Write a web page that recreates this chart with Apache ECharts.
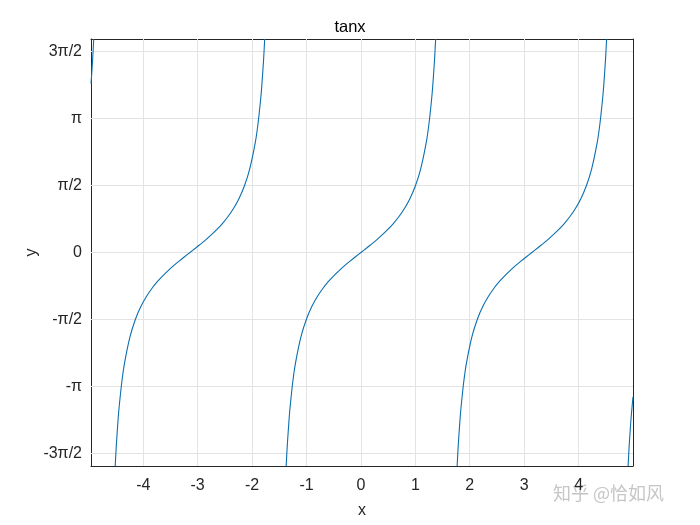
<!DOCTYPE html>
<html>
<head>
<meta charset="utf-8">
<script src="https://cdn.jsdelivr.net/npm/echarts@6/dist/echarts.min.js"></script>
<style>html,body{margin:0;padding:0;background:#fff}#c{width:700px;height:525px}</style>
</head>
<body>
<div id="c"></div>
<script>
// ---- data ----
var titleText = 'tanx';
var xName = 'x';
var yName = 'y';
var xTickValues = [-4, -3, -2, -1, 0, 1, 2, 3, 4];
var yTickValues = [-4.7124, -3.1416, -1.5708, 0, 1.5708, 3.1416, 4.7124];
var yTickLabels = ['-3\u03c0/2', '-\u03c0', '-\u03c0/2', '0', '\u03c0/2', '\u03c0', '3\u03c0/2'];
var xRange = [-4.96, 5.0];
var yRange = [-5, 5];

var branchA = [[-4.96, 3.956], [-4.95, 4.129], [-4.93, 4.523], [-4.9098, 5.0]];
var branchB = [[-4.5150, -5.0], [-4.5016, -4.673], [-4.4916, -4.455], [-4.4616, -3.903], [-4.4416, -3.602],
  [-4.3916, -3.010], [-4.3416, -2.572], [-4.2416, -1.965], [-4.1416, -1.557], [-4.0416, -1.260],
  [-3.9416, -1.030], [-3.8416, -0.842], [-3.7416, -0.684], [-3.6416, -0.546], [-3.5416, -0.423],
  [-3.4416, -0.309], [-3.3416, -0.203], [-3.2416, -0.100], [-3.1416, 0], [-3.0416, 0.100],
  [-2.9416, 0.203], [-2.8416, 0.309], [-2.7416, 0.423], [-2.6416, 0.546], [-2.5416, 0.684],
  [-2.4416, 0.842], [-2.3416, 1.030], [-2.2416, 1.260], [-2.1416, 1.557], [-2.0416, 1.965],
  [-1.9416, 2.572], [-1.8916, 3.010], [-1.8416, 3.602], [-1.8216, 3.903], [-1.7916, 4.455],
  [-1.7816, 4.673], [-1.7682, 5.0]];
var branchC = [[-1.3734, -5.0], [-1.36, -4.673], [-1.35, -4.455], [-1.32, -3.903], [-1.30, -3.602],
  [-1.25, -3.010], [-1.20, -2.572], [-1.10, -1.965], [-1.00, -1.557], [-0.90, -1.260],
  [-0.80, -1.030], [-0.70, -0.842], [-0.60, -0.684], [-0.50, -0.546], [-0.40, -0.423],
  [-0.30, -0.309], [-0.20, -0.203], [-0.10, -0.100], [0, 0], [0.10, 0.100],
  [0.20, 0.203], [0.30, 0.309], [0.40, 0.423], [0.50, 0.546], [0.60, 0.684],
  [0.70, 0.842], [0.80, 1.030], [0.90, 1.260], [1.00, 1.557], [1.10, 1.965],
  [1.20, 2.572], [1.25, 3.010], [1.30, 3.602], [1.32, 3.903], [1.35, 4.455],
  [1.36, 4.673], [1.3734, 5.0]];
var branchD = [[1.7682, -5.0], [1.7816, -4.673], [1.7916, -4.455], [1.8216, -3.903], [1.8416, -3.602],
  [1.8916, -3.010], [1.9416, -2.572], [2.0416, -1.965], [2.1416, -1.557], [2.2416, -1.260],
  [2.3416, -1.030], [2.4416, -0.842], [2.5416, -0.684], [2.6416, -0.546], [2.7416, -0.423],
  [2.8416, -0.309], [2.9416, -0.203], [3.0416, -0.100], [3.1416, 0], [3.2416, 0.100],
  [3.3416, 0.203], [3.4416, 0.309], [3.5416, 0.423], [3.6416, 0.546], [3.7416, 0.684],
  [3.8416, 0.842], [3.9416, 1.030], [4.0416, 1.260], [4.1416, 1.557], [4.2416, 1.965],
  [4.3416, 2.572], [4.3916, 3.010], [4.4416, 3.602], [4.4616, 3.903], [4.4916, 4.455],
  [4.5016, 4.673], [4.5150, 5.0]];
var branchE = [[4.9098, -5.0], [4.93, -4.523], [4.95, -4.129], [4.97, -3.796], [5, -3.3805]];
var watermark = '\u77e5\u4e4e @\u6070\u5982\u98ce';

// ---- chart ----
var FONT = '"Liberation Sans", Arial, Helvetica, sans-serif';
var TXT = '#262626';
var GRID = '#e3e3e3';
var CURVE = '#0a6fb0';

var chart = echarts.init(document.getElementById('c'), null, {renderer: 'canvas'});

function yLabel(v) {
  var best = 0, bd = 1e9;
  for (var i = 0; i < yTickValues.length; i++) {
    var d = Math.abs(yTickValues[i] - v);
    if (d < bd) { bd = d; best = i; }
  }
  return yTickLabels[best];
}

var branches = [branchA, branchB, branchC, branchD, branchE];
var series = branches.map(function (b, i) {
  var s = {
    type: 'line', data: b, showSymbol: false, symbol: 'none',
    smooth: 0.3, clip: true,
    lineStyle: {color: CURVE, width: 1.1}, z: 5, silent: true, animation: false
  };
  if (i === 0) {
    s.markLine = {
      silent: true, symbol: 'none', animation: false,
      label: {show: false},
      lineStyle: {color: GRID, width: 1, type: 'solid'},
      data: yTickValues.map(function (v) { return {yAxis: v}; })
        .concat(xTickValues.map(function (v) { return {xAxis: v}; })),
      z: 1
    };
  }
  return s;
});

var axisLineStyle = {color: TXT, width: 1};

chart.setOption({
  animation: false,
  backgroundColor: '#fff',
  title: {
    text: titleText, left: 'center', top: 14,
    textStyle: {fontFamily: FONT, fontSize: 16.5, fontWeight: 'normal', color: '#000'}
  },
  grid: {left: 91, right: 67, top: 39, bottom: 59, containLabel: false},
  xAxis: [{
    type: 'value', min: xRange[0], max: xRange[1], position: 'bottom',
    name: xName, nameLocation: 'middle', nameGap: 37, nameMoveOverlap: false,
    nameTextStyle: {fontFamily: FONT, fontSize: 16, color: TXT},
    axisLine: {show: true, onZero: false, lineStyle: axisLineStyle},
    axisTick: {show: true, inside: true, length: 5, lineStyle: axisLineStyle, customValues: xTickValues},
    axisLabel: {
      fontFamily: FONT, fontSize: 16, color: TXT, margin: 12, customValues: xTickValues,
      formatter: function (v) { return String(Math.round(v)); }
    },
    splitLine: {show: false}
  }, {
    type: 'value', min: xRange[0], max: xRange[1], position: 'top',
    axisLine: {show: true, onZero: false, lineStyle: axisLineStyle},
    axisTick: {show: true, inside: true, length: 5, lineStyle: axisLineStyle, customValues: xTickValues},
    axisLabel: {show: false},
    splitLine: {show: false}
  }],
  yAxis: [{
    type: 'value', min: yRange[0], max: yRange[1], position: 'left',
    name: yName, nameLocation: 'middle', nameGap: 51, nameRotate: 90, nameMoveOverlap: false,
    nameTextStyle: {fontFamily: FONT, fontSize: 16, color: TXT},
    axisLine: {show: true, onZero: false, lineStyle: axisLineStyle},
    axisTick: {show: true, inside: true, length: 5, lineStyle: axisLineStyle, customValues: yTickValues},
    axisLabel: {fontFamily: FONT, fontSize: 16, color: TXT, margin: 9, customValues: yTickValues, formatter: yLabel},
    splitLine: {show: false}
  }, {
    type: 'value', min: yRange[0], max: yRange[1], position: 'right',
    axisLine: {show: true, onZero: false, lineStyle: axisLineStyle},
    axisTick: {show: true, inside: true, length: 5, lineStyle: axisLineStyle, customValues: yTickValues},
    axisLabel: {show: false},
    splitLine: {show: false}
  }],
  graphic: [{
    type: 'text', left: 553, top: 484, silent: true,
    style: {text: watermark, fill: '#c6c6c6', font: '18px "Noto Sans CJK SC", sans-serif'}
  }],
  series: series
});
</script>
</body>
</html>
